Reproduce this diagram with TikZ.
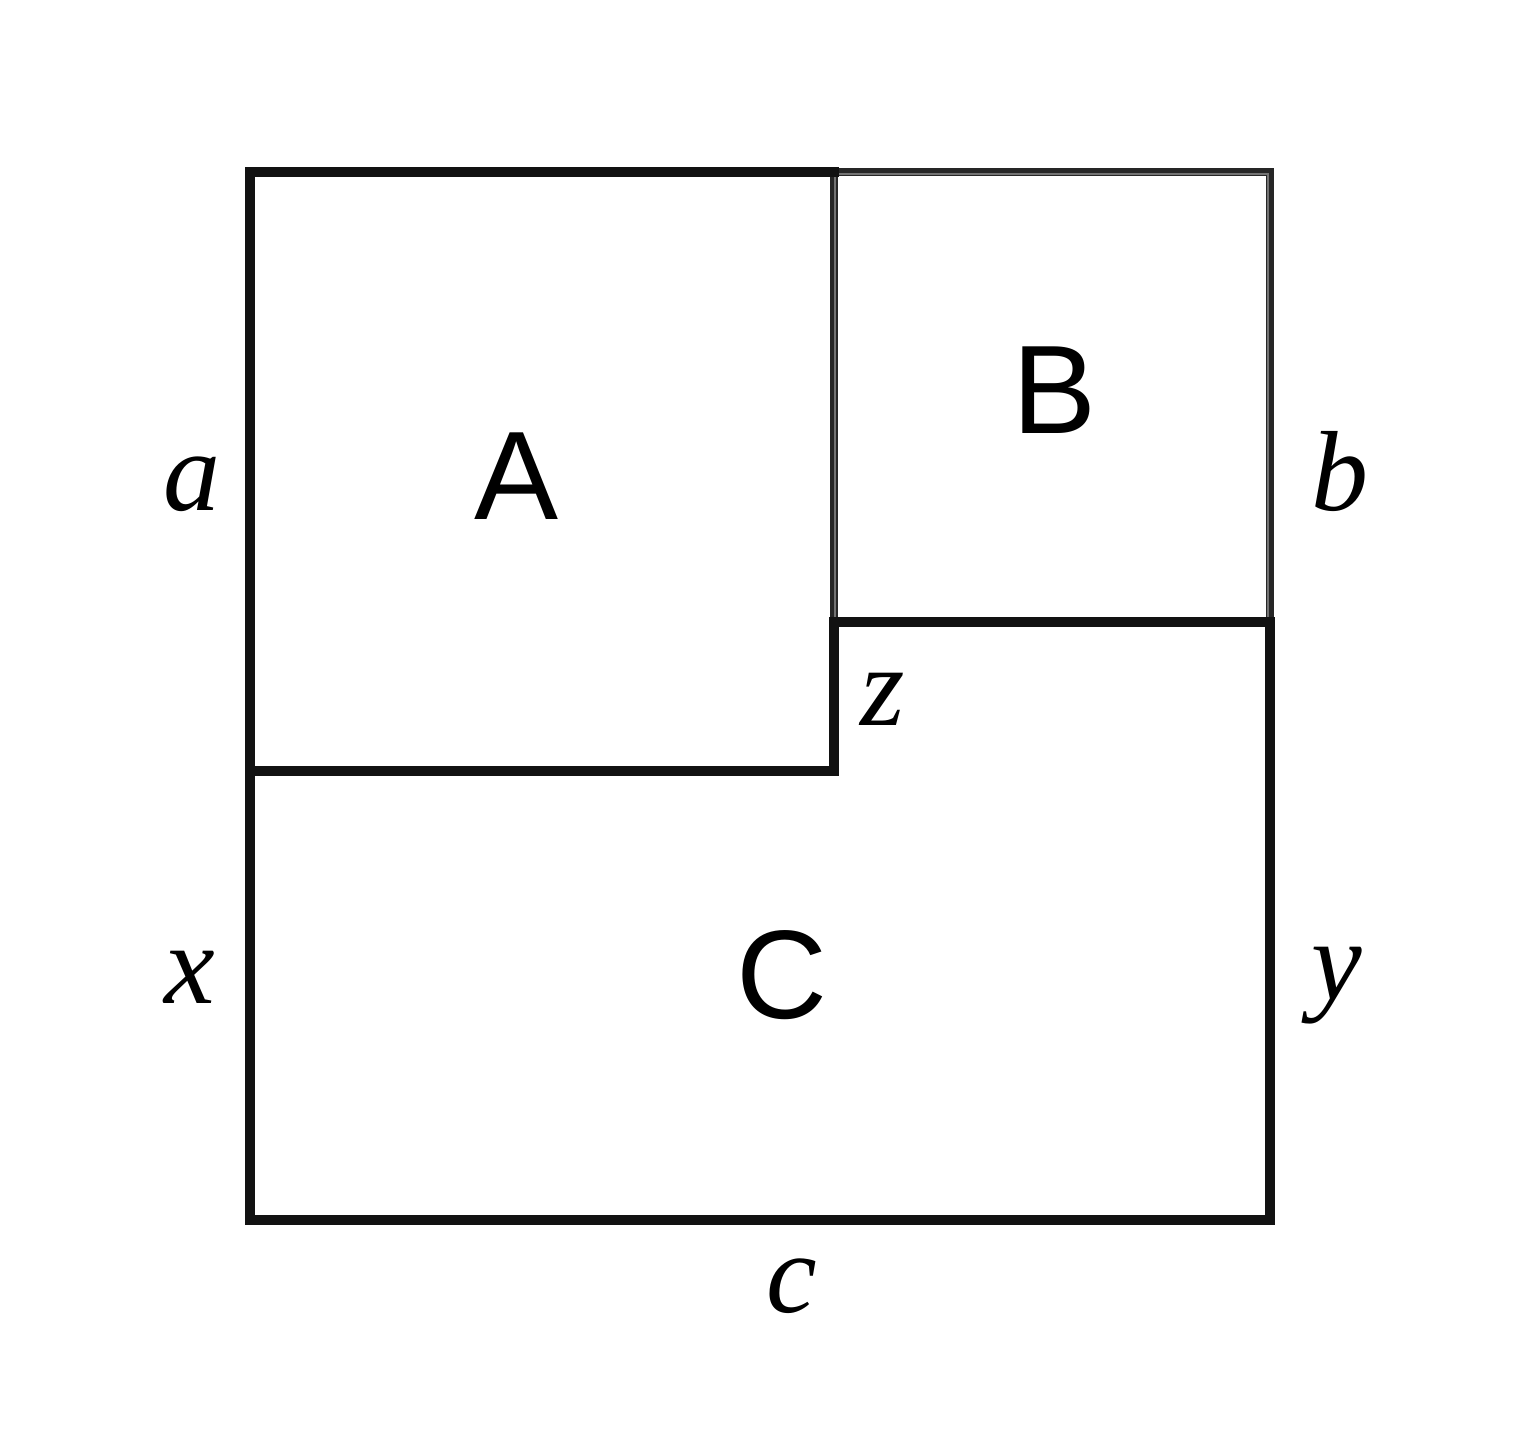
\documentclass[tikz,border=0pt]{standalone}
\usepackage{fontspec}
\setmainfont{Liberation Serif}
\setsansfont{Liberation Sans}
\begin{document}
\begin{tikzpicture}[x=1pt,y=-1pt,
  edge/.style={line width=9.5pt,color=black!93,line cap=rect,line join=miter},
  bedge/.style={line width=8pt,color=black!85,line cap=rect,line join=miter},
  bstripe/.style={line width=2pt,color=black!55},
  region/.style={font=\sffamily\fontsize{126}{150}\selectfont},
  side/.style={font=\itshape\fontsize{114}{140}\selectfont}]
\useasboundingbox (0,0) rectangle (1536,1435);
\coordinate (TL) at (250,172);
\coordinate (TM) at (834,172);
\coordinate (TR) at (1270,172);
\coordinate (BM) at (834,622);
\coordinate (BR) at (1270,622);
\coordinate (AM) at (834,771);
\coordinate (AL) at (250,771);
\coordinate (LL) at (250,1220);
\coordinate (LR) at (1270,1220);
% B box (double-line look)
\draw[bedge] (TM) -- (TR) -- (BR);
\draw[bedge] (TM) -- (BM);
\draw[bstripe] (835,174) -- (1268,174) -- (1268,618);
\draw[bstripe] (835,174) -- (835,618);
% outer and A/C borders
\draw[edge] (TM) -- (TL) -- (LL) -- (LR) -- (BR) -- (BM) -- (AM) -- (AL);
% region labels
\node[region] (A) at (517,476) {A};
\node[region] (B) at (1055,390) {B};
\node[region] (C) at (782,975) {C};
% side labels
\node[side] (la) at (192,484) {a};
\node[side] (lb) at (1340,471) {b};
\node[side] (lx) at (190,977) {x};
\node[side] (ly) at (1337,986) {y};
\node[side] (lz) at (883,699) {z};
\node[side] (lc) at (792,1286) {c};
\end{tikzpicture}
\end{document}
